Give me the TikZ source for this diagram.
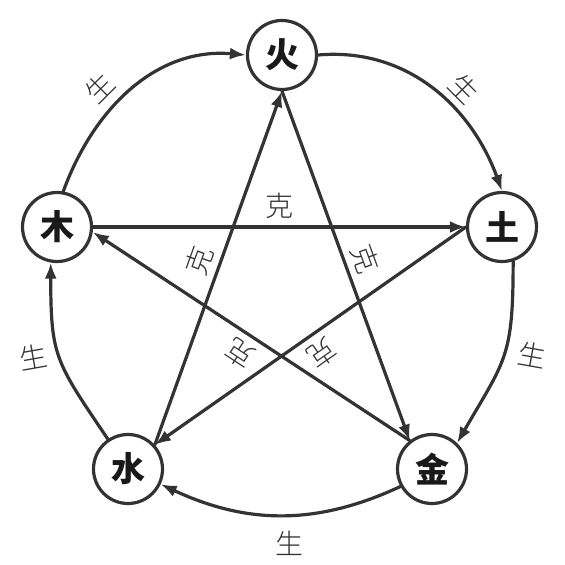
\documentclass[tikz,border=0pt]{standalone}
\usepackage{fontspec}
\newfontfamily\cjk{Noto Sans CJK SC}
\newfontfamily\cjklight{Noto Sans CJK SC Light}
\usepackage{tikz}
\usetikzlibrary{arrows.meta}
\definecolor{wxink}{HTML}{333333}
\tikzset{
  >={Latex[length=16pt,width=12pt]},
  every picture/.style={line cap=round, line join=round},
  elem/.style={circle, draw=wxink, line width=3.2pt, minimum size=69pt, inner sep=0pt,
    font=\cjk\bfseries\fontsize{34}{34}\selectfont, text=black!90},
  link/.style={wxink, line width=3.2pt, ->},
  lbl/.style={font=\cjklight\fontsize{28}{28}\selectfont, text=black!80},
  kelbl/.style={lbl, sloped, allow upside down, above=3pt},
}

\begin{document}
\begin{tikzpicture}[x=1pt, y=-1pt]
\useasboundingbox (0,0) rectangle (565,565);

% the five elements
\node[elem] (huo)  at (282,55)  {火};
\node[elem] (tu)   at (502,227) {土};
\node[elem] (jin)  at (432,469) {金};
\node[elem] (shui) at (128,469) {水};
\node[elem] (mu)   at (57,227)  {木};

% generating cycle
\draw[link] (mu.80) to[out=70, in=175] (huo.west);
\draw[link] (huo.east) to[out=5, in=110] (tu.north);
\draw[link] (tu.-72) to[out=-90, in=60, looseness=1.3] (jin.46);
\draw[link] (jin.209) to[out=205, in=-25] (shui.-25);
\draw[link] (shui.124) to[out=124, in=-90, looseness=1.3] (mu.-100);
\node[lbl, rotate=45]  at (100,88)  {生};
\node[lbl, rotate=-45] at (464,89)  {生};
\node[lbl, rotate=-10] at (532,355) {生};
\node[lbl]             at (289,543) {生};
\node[lbl, rotate=10]  at (33,357)  {生};

% overcoming star
\draw[link] (mu.east) -- node[kelbl] {克} (tu.west);
\draw[link] (tu.west) -- node[kelbl] {克} (shui.42);
\draw[link] (shui.42) -- node[kelbl] {克} (huo.south);
\draw[link] (huo.south) -- node[kelbl] {克} (jin.128);
\draw[link] (jin.128) -- node[kelbl] {克} (mu.-8);
\end{tikzpicture}
\end{document}
